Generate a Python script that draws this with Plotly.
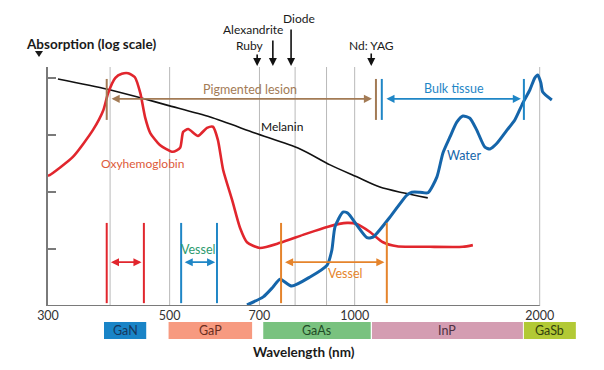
import numpy as np
import plotly.graph_objects as go

# ---------------- data ----------------
X_START_NM = 317   # wavelength at the left axis line (labelled 300)
X_END_NM = 2300

x_tick_vals = [X_START_NM, 500, 700, 1000, 2000]
x_tick_text = ["300", "500", "700", "1000", "2000"]
grid_wl = [400, 500, 700, 800, 900, 1000, 2000]
y_tick_vals = [1, 2, 3, 4]

# Oxyhemoglobin (log absorption, decades)
hb_wl = [317, 319, 348, 375, 390, 397, 408, 418, 428, 439, 448, 456, 465, 482, 506, 520, 526, 536,
         556, 575, 588, 599, 611, 632, 651, 668, 701, 756, 824, 902, 972, 1008, 1059, 1112, 1172,
         1326, 1500, 1557]
hb_abs = [2.29, 2.30, 2.62, 3.09, 3.44, 3.74, 4.01, 4.08, 4.09, 4.02, 3.74, 3.32, 3.04, 2.83, 2.71,
          2.78, 3.06, 3.11, 2.99, 3.13, 3.15, 2.92, 2.39, 1.86, 1.37, 1.12, 1.02, 1.11, 1.25, 1.39,
          1.46, 1.44, 1.30, 1.12, 1.05, 1.04, 1.04, 1.07]

# Melanin
mel_wl = [329, 396, 448, 495, 582, 688, 815, 912, 1008, 1099, 1198, 1315]
mel_abs = [3.99, 3.81, 3.66, 3.53, 3.32, 3.04, 2.76, 2.48, 2.27, 2.09, 1.99, 1.90]

# Water
wat_wl = [668, 710, 736, 756, 790, 846, 902, 918, 929, 957, 975, 1008, 1047, 1071, 1141, 1216,
          1239, 1277, 1316, 1361, 1392, 1429, 1466, 1500, 1540, 1580, 1629, 1660, 1704, 1769,
          1822, 1878, 1928, 1964, 1986, 2009, 2023, 2093]
wat_abs = [0.02, 0.16, 0.33, 0.47, 0.35, 0.51, 0.72, 0.98, 1.39, 1.65, 1.63, 1.42, 1.20, 1.21,
           1.56, 1.95, 2.00, 2.00, 1.99, 2.27, 2.69, 2.97, 3.23, 3.34, 3.30, 3.09, 2.79, 2.76,
           2.86, 3.09, 3.27, 3.57, 3.80, 4.01, 4.06, 3.92, 3.76, 3.62]

# Lasers
laser_wl = [694, 736, 788, 1064]

# Treatment spans: bar positions and arrow tips (nm)
span_bar_lo = [395, 1107, 395, 522, 759]
span_bar_hi = [1083, 1885, 454, 597, 1128]
span_tip_lo = [400, 1120, 399, 526, 766]
span_tip_hi = [1067, 1864, 450, 593, 1118]
span_bar_bottom = [3.27, 3.27, 0.05, 0.05, 0.05]
span_bar_top = [3.99, 3.99, 1.46, 1.46, 1.46]
span_arrow_y = [3.64, 3.64, 0.77, 0.77, 0.77]

# Semiconductor bands (nm)
band_names = ["GaN", "GaP", "GaAs", "InP", "GaSb"]
band_lo = [391, 498, 710, 1067, 1885]
band_hi = [458, 681, 1062, 1878, 2290]

# ---------------- styles ----------------
FONT = "Lato"
RED = "#e1262d"
BLUE = "#1565aa"
BROWN = "#a37b55"
LBLUE = "#1f86c6"
ORANGE = "#e5842c"
span_colors = [BROWN, LBLUE, RED, LBLUE, ORANGE]
band_fill = ["#1984c7", "#f79a80", "#79c27f", "#d49db2", "#b2c935"]
band_text = ["#17365c", "#6a2e1f", "#1f4a26", "#4d3142", "#333f0e"]
GRID = "#b9b9b9"
AXIS = "#7a7a7a"

fig = go.Figure()

fig.add_trace(go.Scatter(x=mel_wl, y=mel_abs, mode="lines",
                         line=dict(color="#111111", width=1.6, shape="spline", smoothing=0.8),
                         hoverinfo="skip"))
fig.add_trace(go.Scatter(x=hb_wl, y=hb_abs, mode="lines",
                         line=dict(color=RED, width=2.6, shape="spline", smoothing=0.6),
                         hoverinfo="skip"))
fig.add_trace(go.Scatter(x=wat_wl, y=wat_abs, mode="lines",
                         line=dict(color=BLUE, width=3, shape="spline", smoothing=0.6),
                         hoverinfo="skip"))

shapes = []
for g in grid_wl:
    shapes.append(dict(type="line", xref="x", yref="paper", x0=g, x1=g, y0=0, y1=1,
                       line=dict(color=GRID, width=1), layer="below"))
# x axis line
shapes.append(dict(type="line", xref="x", yref="y", x0=X_START_NM, x1=2000, y0=0, y1=0,
                   line=dict(color=AXIS, width=2), layer="above"))
# span bars
for i in range(len(span_bar_lo)):
    for xb in (span_bar_lo[i], span_bar_hi[i]):
        shapes.append(dict(type="line", xref="x", yref="y", x0=xb, x1=xb,
                           y0=span_bar_bottom[i], y1=span_bar_top[i],
                           line=dict(color=span_colors[i], width=2)))
# bands
for i in range(len(band_names)):
    shapes.append(dict(type="rect", xref="x", yref="paper", x0=band_lo[i], x1=band_hi[i],
                       y0=-0.138, y1=-0.067, line=dict(width=0), fillcolor=band_fill[i]))
# small marker triangle under the y-axis title
shapes.append(dict(type="path", xref="paper", yref="paper",
                   path="M -0.0246 1.067 L -0.0095 1.067 L -0.017 1.042 Z",
                   fillcolor="#1a1a1a", line=dict(width=0)))

ann = []
# span arrows
for i in range(len(span_bar_lo)):
    ann.append(dict(x=np.log10(span_tip_hi[i]), y=span_arrow_y[i], xref="x", yref="y",
                    ax=np.log10(span_tip_lo[i]), ay=span_arrow_y[i], axref="x", ayref="y",
                    text="", showarrow=True, arrowhead=2, startarrowhead=2,
                    arrowside="end+start", arrowsize=0.9, startarrowsize=0.9,
                    arrowwidth=1.8, arrowcolor=span_colors[i]))
# laser arrows
laser_tail = [-13, -27, -38, -14]
for wl, t in zip(laser_wl, laser_tail):
    ann.append(dict(x=np.log10(wl), y=1.004, xref="x", yref="paper", ax=0, ay=t,
                    text="", showarrow=True, arrowhead=2, arrowsize=1.0, arrowwidth=1.6,
                    arrowcolor="#111111"))

def txt(s, x, y, xref, yref, color, size=12, bold=False):
    ann.append(dict(text=("<b>%s</b>" % s) if bold else s, x=x, y=y, xref=xref, yref=yref,
                    showarrow=False, xanchor="center", yanchor="middle",
                    font=dict(family=FONT, size=size, color=color)))

txt("Absorption (log scale)", 0.0813, 1.096, "paper", "paper", "#1a1a1a", 13.5, True)
txt("Alexandrite", 0.3875, 1.155, "paper", "paper", "#1a1a1a", 12)
txt("Ruby", 0.382, 1.088, "paper", "paper", "#1a1a1a", 12)
txt("Diode", 0.4745, 1.205, "paper", "paper", "#1a1a1a", 12)
txt("Nd: YAG", 0.6106, 1.088, "paper", "paper", "#1a1a1a", 12)
txt("Wavelength (nm)", 0.484, -0.1925, "paper", "paper", "#1a1a1a", 13.5, True)

txt("Pigmented lesion", np.log10(676), 3.81, "x", "y", BROWN, 12.5)
txt("Bulk tissue", np.log10(1450), 3.83, "x", "y", LBLUE, 12.5)
txt("Melanin", np.log10(762), 3.15, "x", "y", "#111111")
txt("Oxyhemoglobin", np.log10(451), 2.50, "x", "y", "#dd5a3a")
txt("Water", np.log10(1505), 2.64, "x", "y", BLUE, 12.5)
txt("Vessel", np.log10(558), 1.00, "x", "y", "#2c9a6e", 12.5)
txt("Vessel", np.log10(968), 0.58, "x", "y", ORANGE, 12.5)

for i, name in enumerate(band_names):
    txt(name, np.log10(np.sqrt(band_lo[i] * band_hi[i])), -0.1025, "x", "paper", band_text[i], 12.5)

# The page body adds an 8 px offset, so the figure is 8 px smaller and margins shifted.
fig.update_layout(
    width=596, height=362,
    margin=dict(l=40, r=27, t=59, b=64),
    paper_bgcolor="white", plot_bgcolor="white",
    showlegend=False,
    font=dict(family=FONT, size=12, color="#222222"),
    shapes=shapes, annotations=ann,
    xaxis=dict(type="log", range=[np.log10(X_START_NM), np.log10(X_END_NM)],
               tickvals=x_tick_vals, ticktext=x_tick_text, showgrid=False, zeroline=False,
               showline=False, ticks="", tickfont=dict(family=FONT, size=12.5, color="#333333")),
    yaxis=dict(range=[0, 4.2], tickvals=y_tick_vals, showticklabels=False, showgrid=False,
               zeroline=False, showline=True, linecolor=AXIS, linewidth=2,
               ticks="inside", ticklen=8, tickcolor=AXIS, tickwidth=1.5),
)

fig.write_html("out.html")
